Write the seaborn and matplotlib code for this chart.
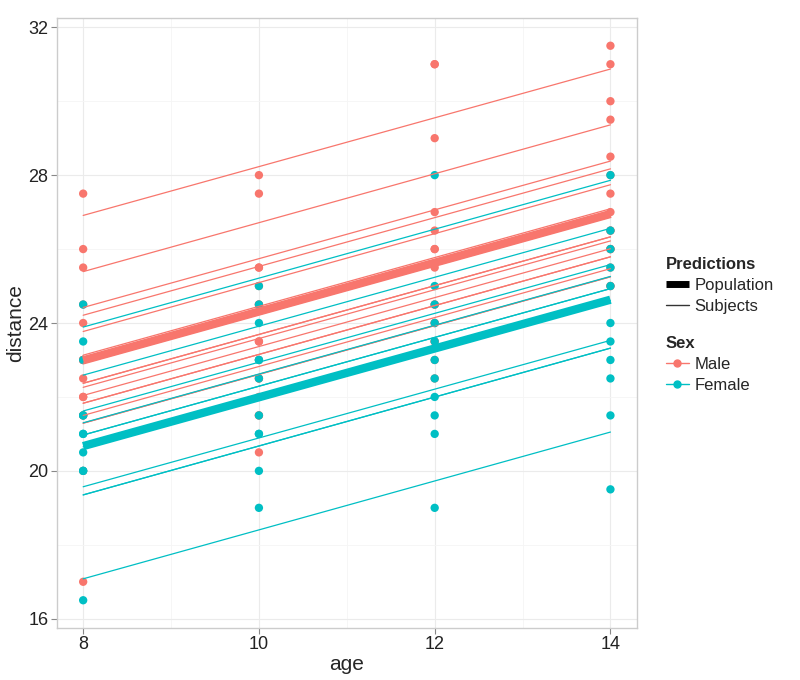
import numpy as np
import pandas as pd
import matplotlib.pyplot as plt
from matplotlib.lines import Line2D
import seaborn as sns

sns.set_style("white")
plt.rcParams['font.family'] = ['Liberation Sans', 'DejaVu Sans']

# observed distances at ages 8, 10, 12, 14 (Orthodont)
ages = [8, 10, 12, 14]
male_ids = ["M01", "M02", "M03", "M04", "M05", "M06", "M07", "M08",
            "M09", "M10", "M11", "M12", "M13", "M14", "M15", "M16"]
male_dist = [[26, 25, 29, 31], [21.5, 22.5, 23, 26.5], [23, 22.5, 24, 27.5],
             [25.5, 27.5, 26.5, 27], [20, 23.5, 22.5, 26], [24.5, 25.5, 27, 28.5],
             [22, 22, 24.5, 26.5], [24, 21.5, 24.5, 25.5], [23, 20.5, 31, 26],
             [27.5, 28, 31, 31.5], [23, 23, 23.5, 25], [21.5, 23.5, 24, 28],
             [17, 24.5, 26, 29.5], [22.5, 25.5, 25.5, 26], [23, 24.5, 26, 30],
             [22, 21.5, 23.5, 25]]
female_ids = ["F01", "F02", "F03", "F04", "F05", "F06", "F07", "F08",
              "F09", "F10", "F11"]
female_dist = [[21, 20, 21.5, 23], [21, 21.5, 24, 25.5], [20.5, 24, 24.5, 26],
               [23.5, 24.5, 25, 26.5], [21.5, 23, 22.5, 23.5], [20, 21, 21, 22.5],
               [21.5, 22.5, 23, 25], [23, 23, 23.5, 24], [20, 21, 22, 21.5],
               [16.5, 19, 19, 19.5], [24.5, 25, 28, 28]]

# predicted lines, value at age 8 and at age 14
pop_sex = ["Male", "Female"]
pop_at8 = [22.99, 20.67]
pop_at14 = [26.95, 24.63]
male_pred8 = [25.39, 21.50, 22.37, 24.42, 21.29, 24.21, 21.83, 22.04,
              23.13, 26.91, 21.83, 22.37, 22.26, 22.91, 23.77, 21.29]
male_pred14 = [29.36, 25.47, 26.33, 28.38, 25.25, 28.17, 25.79, 26.01,
               27.09, 30.87, 25.79, 26.33, 26.22, 26.87, 27.74, 25.25]
female_pred8 = [19.57, 20.97, 21.62, 22.59, 20.65, 19.35, 20.97, 21.30,
                19.35, 17.08, 23.89]
female_pred14 = [23.53, 24.93, 25.58, 26.56, 24.61, 23.32, 24.93, 25.26,
                 23.32, 21.05, 27.86]

pal = {"Male": "#F8766D", "Female": "#00BFC4"}

rows = []
for ids, dists, sex in [(male_ids, male_dist, "Male"), (female_ids, female_dist, "Female")]:
    for sid, d in zip(ids, dists):
        for a, v in zip(ages, d):
            rows.append({"Subject": sid, "Sex": sex, "age": a, "distance": v})
obs = pd.DataFrame(rows)

rows = []
for ids, p8, p14, sex in [(male_ids, male_pred8, male_pred14, "Male"),
                          (female_ids, female_pred8, female_pred14, "Female")]:
    for sid, a, b in zip(ids, p8, p14):
        rows.append({"Subject": sid, "Sex": sex, "age": 8, "pred": a})
        rows.append({"Subject": sid, "Sex": sex, "age": 14, "pred": b})
subj = pd.DataFrame(rows)

pop = pd.DataFrame({"Sex": pop_sex * 2, "age": [8, 8, 14, 14],
                    "pred": pop_at8 + pop_at14})

fig = plt.figure(figsize=(8, 6.8), dpi=100)
ax = fig.add_axes([0.071, 0.0765, 0.725, 0.897])

sns.scatterplot(data=obs, x="age", y="distance", hue="Sex", palette=pal,
                s=36, linewidth=0, legend=False, ax=ax, zorder=3)
sns.lineplot(data=subj, x="age", y="pred", hue="Sex", units="Subject",
             estimator=None, palette=pal, linewidth=0.9, legend=False, ax=ax, zorder=4)
sns.lineplot(data=pop, x="age", y="pred", hue="Sex", palette=pal,
             linewidth=6, solid_capstyle="butt", legend=False, ax=ax, zorder=5)

ax.set_xlim(7.7, 14.3)
ax.set_ylim(15.75, 32.25)
ax.set_xticks([8, 10, 12, 14])
ax.set_yticks([16, 20, 24, 28, 32])
ax.set_xticks([9, 11, 13], minor=True)
ax.set_yticks([18, 22, 26, 30], minor=True)
ax.grid(True, which="major", color="#ebebeb", linewidth=0.8)
ax.grid(True, which="minor", color="#f5f5f5", linewidth=0.6)
ax.set_axisbelow(True)
for sp in ax.spines.values():
    sp.set_color("#cccccc")
    sp.set_linewidth(1)
ax.tick_params(axis="both", which="major", length=4, color="#888888", pad=2,
               labelsize=13, labelcolor="#222222", direction="out", left=True, bottom=True)
ax.tick_params(axis="both", which="minor", length=0)
ax.set_xlabel("age", fontsize=15, labelpad=1)
ax.set_ylabel("distance", fontsize=15, labelpad=2)

leg_kw = dict(loc="upper left", frameon=False, fontsize=12, alignment="left",
              title_fontproperties={"weight": "bold", "size": 12},
              handlelength=1.4, handletextpad=0.3, borderaxespad=0,
              borderpad=0, labelspacing=0.35)
h1 = [Line2D([], [], color="black", linewidth=5, solid_capstyle="butt"),
      Line2D([], [], color="#333333", linewidth=1)]
leg1 = ax.legend(h1, ["Population", "Subjects"], title="Predictions",
                 bbox_to_anchor=(1.05, 0.608), **leg_kw)
ax.add_artist(leg1)
h2 = [Line2D([], [], color=pal["Male"], marker="o", markersize=5, linewidth=1),
      Line2D([], [], color=pal["Female"], marker="o", markersize=5, linewidth=1)]
leg2 = ax.legend(h2, ["Male", "Female"], title="Sex",
                 bbox_to_anchor=(1.05, 0.478), **leg_kw)

fig.savefig("out.png", dpi=100)
